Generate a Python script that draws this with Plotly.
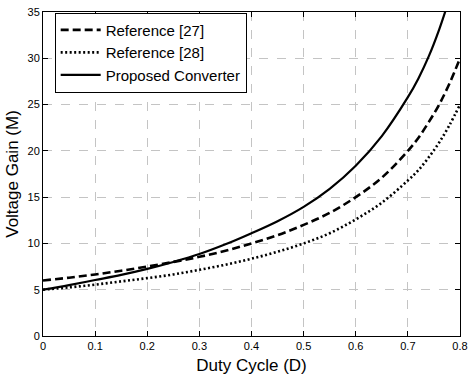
import plotly.graph_objects as go

# Duty cycle samples
duty = [0.0, 0.05, 0.1, 0.15, 0.2, 0.25, 0.3, 0.35, 0.4, 0.45, 0.5, 0.55,
        0.6, 0.65, 0.7, 0.72, 0.74, 0.76, 0.78, 0.8]

# Voltage gain
ref27 = [6.0, 6.3, 6.65, 7.05, 7.5, 8.0, 8.55, 9.2, 10.0, 10.9, 12.0, 13.3,
         15.0, 17.1, 20.0, 21.4, 23.1, 25.0, 27.3, 30.0]
ref28 = [5.0, 5.25, 5.55, 5.9, 6.25, 6.65, 7.15, 7.7, 8.35, 9.1, 10.0, 11.1,
         12.6, 14.4, 16.8, 17.9, 19.3, 20.9, 22.8, 25.0]
proposed = [5.0, 5.5, 6.05, 6.6, 7.25, 8.0, 8.85, 9.9, 11.1, 12.4, 13.95, 15.9,
            18.4, 21.6, 25.8, 27.8, 30.2, 33.1, 36.5, None]

x_ticks = [0, 0.1, 0.2, 0.3, 0.4, 0.5, 0.6, 0.7, 0.8]
x_tick_labels = ["0", "0.1", "0.2", "0.3", "0.4", "0.5", "0.6", "0.7", "0.8"]
y_ticks = [0, 5, 10, 15, 20, 25, 30, 35]

FONT = "Liberation Sans, Arial, Helvetica, sans-serif"

fig = go.Figure()
fig.add_trace(go.Scatter(x=duty, y=ref27, mode="lines", name="Reference [27]",
                         line=dict(color="black", width=2.6, dash="8px,4px", shape="spline")))
fig.add_trace(go.Scatter(x=duty, y=ref28, mode="lines", name="Reference [28]",
                         line=dict(color="black", width=2.6, dash="2px,2.5px", shape="spline")))
fig.add_trace(go.Scatter(x=duty, y=proposed, mode="lines", name="Proposed Converter",
                         connectgaps=False,
                         line=dict(color="black", width=2.2, shape="spline")))

axis_common = dict(
    showline=True, linecolor="black", linewidth=1, mirror="ticks",
    ticks="inside", ticklen=5, tickcolor="black",
    showgrid=True, gridcolor="#c4c4c4", griddash="dash", gridwidth=1,
    zeroline=False, tickfont=dict(size=11, color="black", family=FONT),
)

fig.update_xaxes(range=[0, 0.8], tickvals=x_ticks, ticktext=x_tick_labels,
                 title=dict(text="Duty Cycle (D)", font=dict(size=17, color="black", family=FONT),
                            standoff=7),
                 **axis_common)
fig.update_yaxes(range=[0, 35], tickvals=y_ticks,
                 title=dict(text="Voltage Gain (M)", font=dict(size=17, color="black", family=FONT),
                            standoff=4),
                 **axis_common)

fig.update_layout(
    width=474, height=377,
    margin=dict(l=43, r=11, t=6, b=40),
    plot_bgcolor="white", paper_bgcolor="white",
    font=dict(family=FONT, color="black"),
    showlegend=True,
    legend=dict(x=0.028, y=0.998, xanchor="left", yanchor="top",
                bgcolor="white", bordercolor="black", borderwidth=1,
                font=dict(size=15, color="black", family=FONT),
                itemwidth=40, tracegroupgap=0),
)

fig.write_html("out.html", config={"displayModeBar": False},
               post_script="document.body.style.margin='0';document.body.style.overflow='hidden';")
